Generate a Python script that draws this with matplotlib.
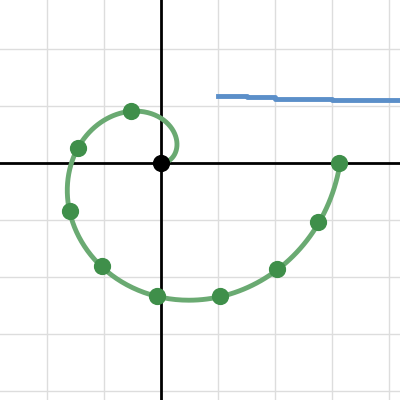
import numpy as np
import matplotlib.pyplot as plt

# spiral r = a + b*theta, theta from -2pi to 0
spiral_a = np.pi
spiral_b = 0.5
theta_start = -2 * np.pi
theta_end = 0.0

# marked points on the spiral
pts_x = [3.12, 2.75, 2.04, 1.04, -0.07, -1.04, -1.60, -1.46, -0.53]
pts_y = [0.00, -1.04, -1.86, -2.33, -2.33, -1.81, -0.84, 0.26, 0.91]

# blue stepped line
blue_x = [1.0, 1.5, 1.5, 2.0, 2.0, 3.0, 3.0, 4.2]
blue_y = [1.17, 1.17, 1.15, 1.15, 1.13, 1.13, 1.11, 1.11]

fig = plt.figure(figsize=(4, 4), dpi=100)
ax = fig.add_axes([0, 0, 1, 1])
xmin, xmax = -161 / 57, 239 / 57
ymin, ymax = -237 / 57, 163 / 57
ax.set_xlim(xmin, xmax)
ax.set_ylim(ymin, ymax)

for gx in range(-2, 5):
    ax.axvline(gx, color="#dddddd", lw=1, zorder=0)
for gy in range(-4, 3):
    ax.axhline(gy, color="#dddddd", lw=1, zorder=0)
ax.axvline(0, color="black", lw=2, zorder=1)
ax.axhline(0, color="black", lw=2, zorder=1)

t = np.linspace(theta_start, theta_end, 400)
r = spiral_a + spiral_b * t
ax.plot(r * np.cos(t), r * np.sin(t), color="#6aaa72", lw=3.5, zorder=2)
ax.scatter(pts_x, pts_y, s=130, color="#3f8f4a", zorder=3)
ax.scatter([0], [0], s=130, color="black", zorder=4)
ax.plot(blue_x, blue_y, color="#5b8fc9", lw=3.5, zorder=2)

ax.axis("off")
fig.savefig("out.png", dpi=100)
